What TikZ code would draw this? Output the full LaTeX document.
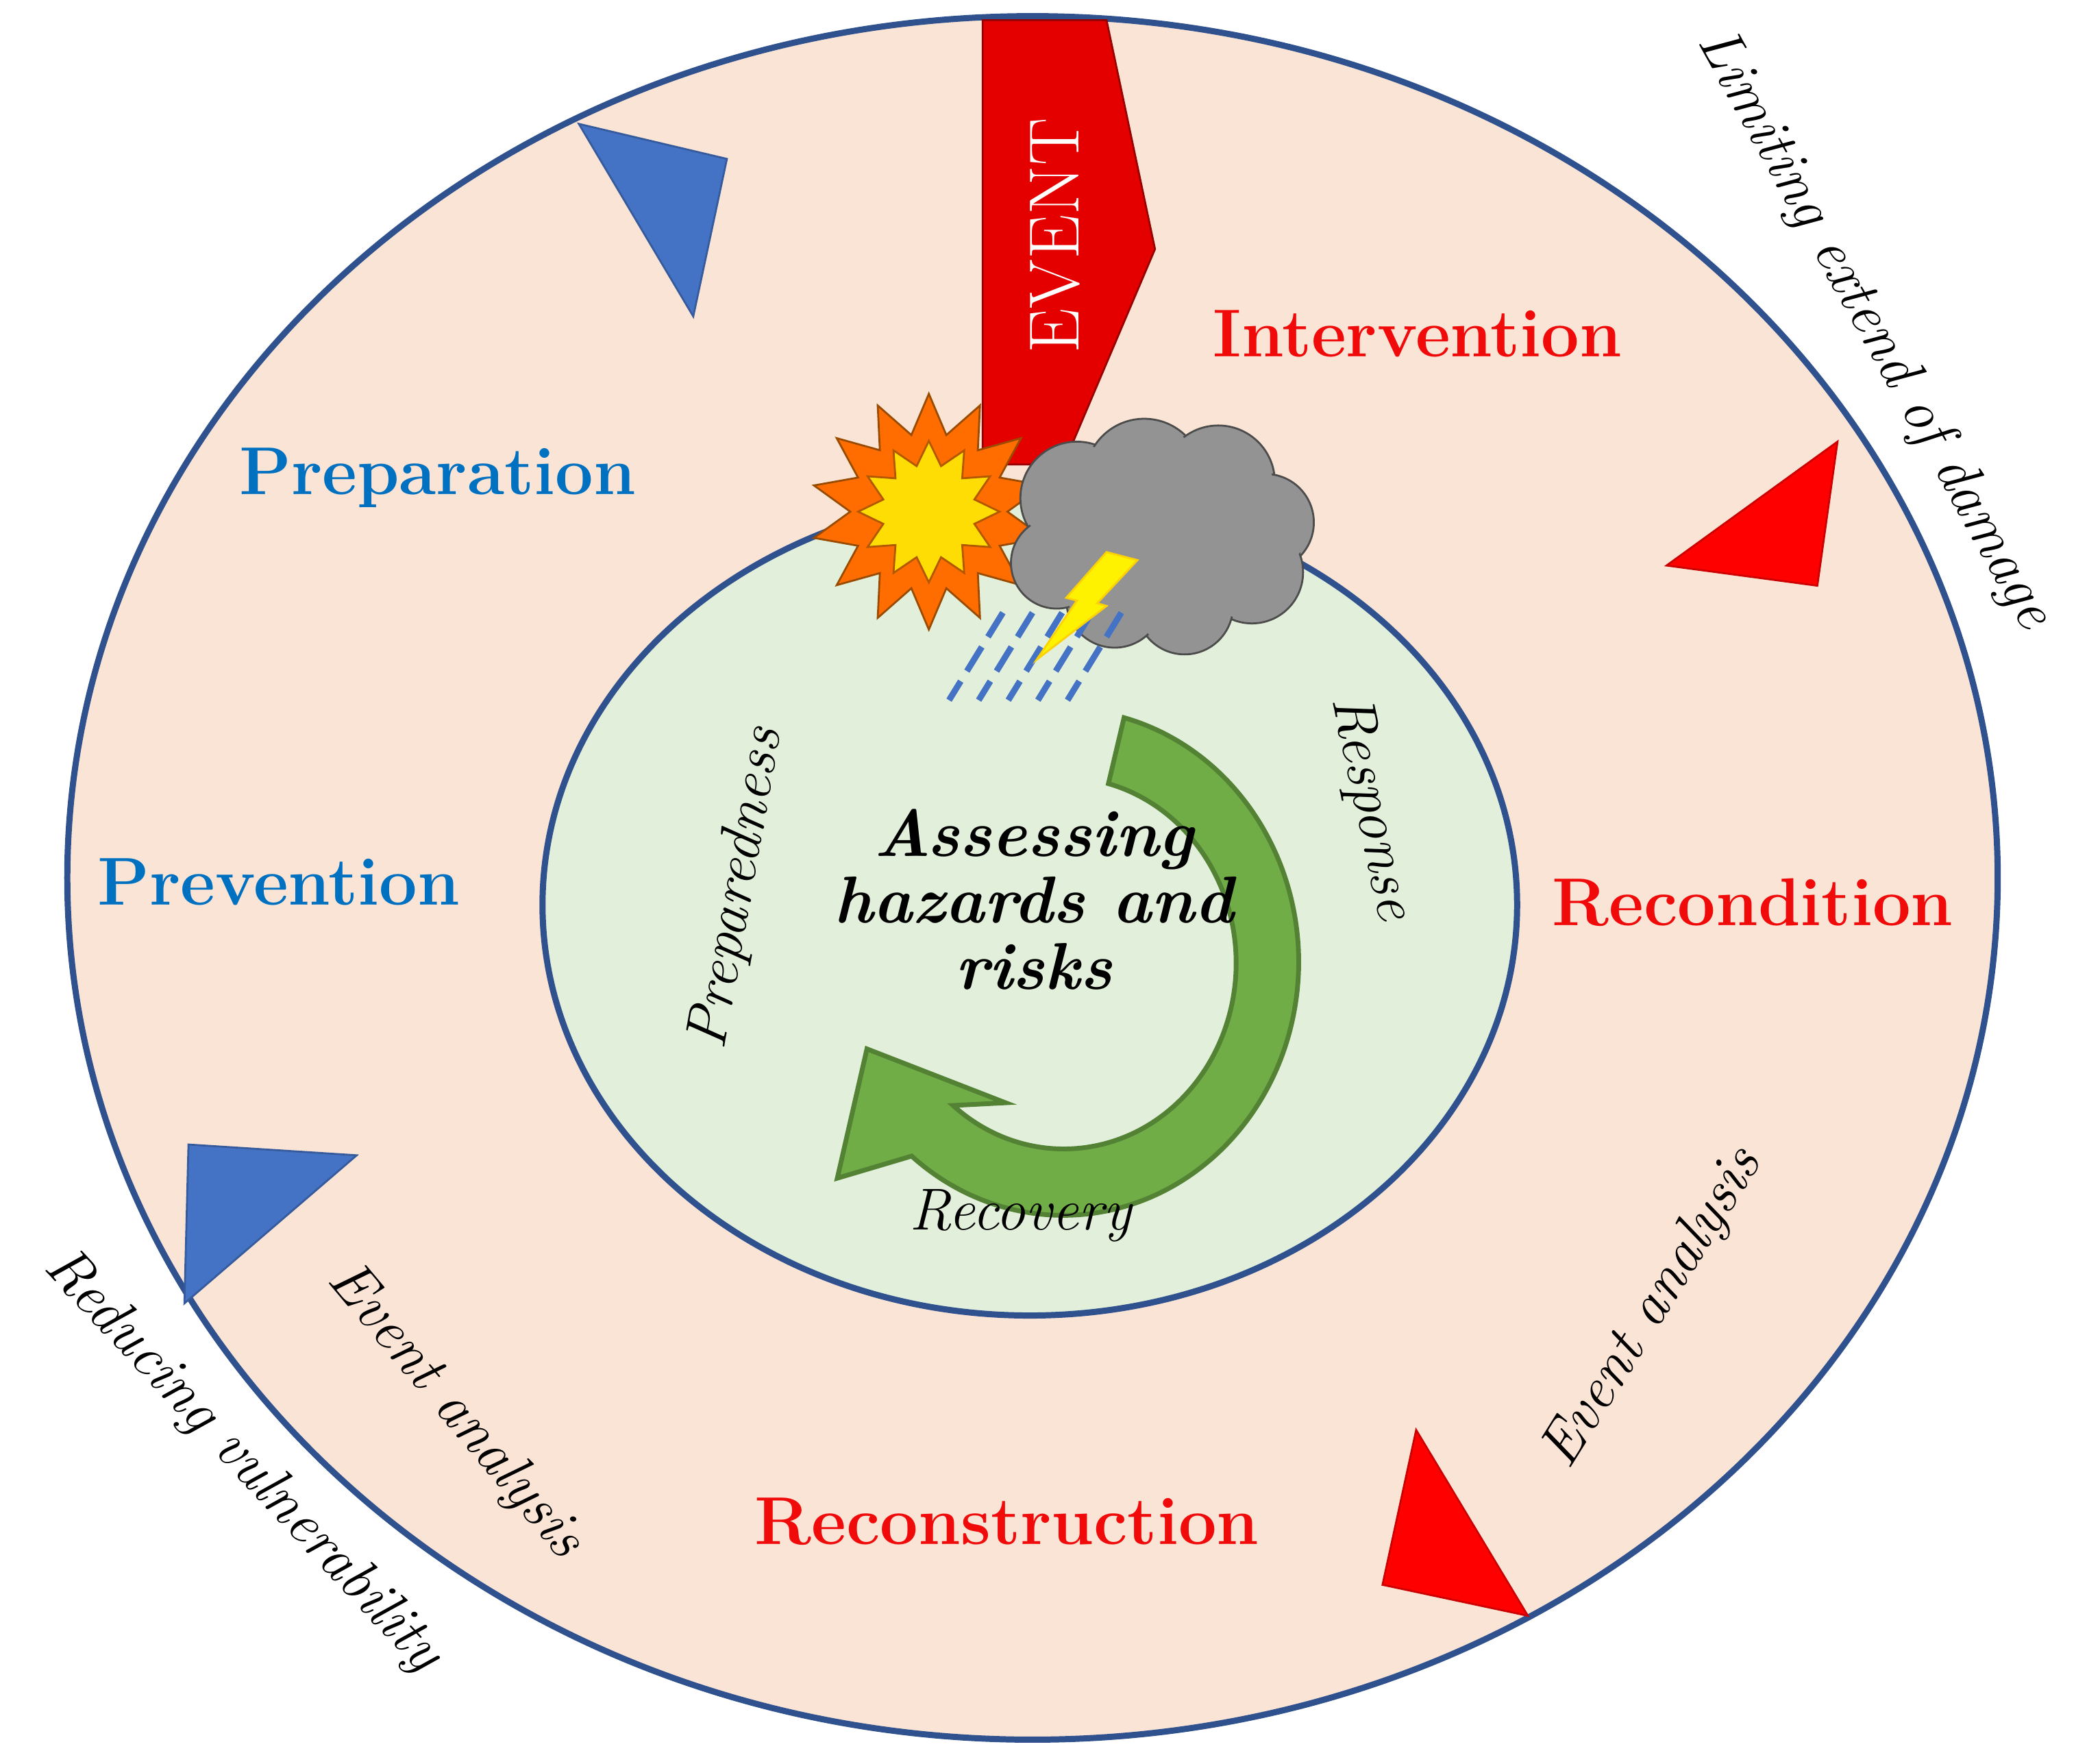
\documentclass[tikz,border=0pt]{standalone}
\usepackage{tikz}
\usetikzlibrary{shapes.geometric}

\definecolor{peach}{RGB}{250,228,214}
\definecolor{mint}{RGB}{226,239,218}
\definecolor{rim}{RGB}{47,82,143}
\definecolor{tblue}{RGB}{0,112,192}
\definecolor{tred}{RGB}{240,10,10}
\definecolor{triblue}{RGB}{68,114,196}
\definecolor{arrgreen}{RGB}{112,173,71}

\tikzset{
  phase/.style={font=\fontsize{14.3}{16}\selectfont\bfseries},
  note/.style={font=\fontsize{12.5}{14}\selectfont\itshape},
  tri/.style={draw=#1!80!black, fill=#1},
}

\begin{document}
\begin{tikzpicture}[x=0.01cm, y=-0.01cm]
            \useasboundingbox (0,0) rectangle (1560,1300);
            % rings
            \filldraw[fill=peach, draw=rim, line width=1.3pt] (767,652) ellipse (717 and 640);
            \filldraw[fill=mint, draw=rim, line width=1.3pt] (765,672) ellipse (362 and 305);

            % event arrow
            \filldraw[fill=red!90!black, draw=red!60!black] (730,15) -- (822,15) -- (858,185) -- (790,345) -- (730,345) -- cycle;
            \node[white, rotate=90, font=\fontsize{15}{17}\selectfont] (event) at (784,175) {EVENT};

            % triangles
            \filldraw[tri=triblue] (430,92) -- (540,118) -- (515,235) -- cycle;
            \filldraw[tri=triblue] (140,850) -- (265,858) -- (137,968) -- cycle;
            \filldraw[tri=red] (1365,328) -- (1350,435) -- (1238,420) -- cycle;
            \filldraw[tri=red] (1052,1062) -- (1135,1200) -- (1027,1177) -- cycle;

            % starburst
            \node[star, star points=14, star point ratio=1.5, minimum size=1.75cm, inner sep=0pt, fill=orange!85!red, draw=orange!60!black] (burst) at (690,380) {};
            \node[star, star points=12, star point ratio=1.5, minimum size=1.05cm, inner sep=0pt, fill=yellow!80!orange, draw=orange!70!black] (core) at (690,380) {};

            % cloud
            \foreach \cx/\cy/\r in {800/370/42, 850/355/44, 905/358/42, 940/388/36, 930/425/38, 880/450/36, 828/445/36, 785/418/34}
              \draw[gray!60!black, fill=gray!85] (\cx,\cy) circle (\r);
            \foreach \cx/\cy/\r in {800/370/40, 850/355/42, 905/358/40, 940/388/34, 930/425/36, 880/450/34, 828/445/34, 785/418/32}
              \fill[gray!85] (\cx,\cy) circle (\r);
            \fill[gray!85] (800,365) rectangle (925,440);

            % rain
            \foreach \dx in {0,22,44,66,88}
              \draw[triblue, line width=1.3pt, dash pattern=on 6pt off 2.5pt] (745+\dx,455) -- (705+\dx,520);
            % lightning
            \filldraw[fill=yellow, draw=yellow!70!orange] (822,410) -- (845,416) -- (815,448) -- (822,450) -- (770,490) -- (800,446) -- (792,444) -- cycle;

            % cycle arrow
            \filldraw[fill=arrgreen, draw=arrgreen!75!black, line width=1pt]
              (835,533) arc[start angle=-75, end angle=130, x radius=175, y radius=188]
              -- (622,875) -- (644,779) -- (747,819) -- (708,821)
              arc[start angle=130, end angle=-75, x radius=128, y radius=138] -- cycle;

            % labels
            \node[phase, tblue] (prep) at (325,355) {Preparation};
            \node[phase, tblue] (prev) at (207,655) {Prevention};
            \node[phase, tred] (interv) at (1053,248) {Intervention};
            \node[phase, tred] (recond) at (1302,670) {Recondition};
            \node[phase, tred] (recon) at (748,1130) {Reconstruction};

            \node[note, rotate=-61] (limit) at (1392,245) {Limiting extend of damage};
            \node[note, rotate=-47] (reduce) at (180,1085) {Reducing vulnerability};
            \node[note, rotate=-50] (anl) at (338,1048) {Event analysis};
            \node[note, rotate=58] (anr) at (1228,972) {Event analysis};

            \node[note, rotate=80] (pness) at (548,660) {Preparedness};
            \node[note, rotate=-78] (resp) at (1018,600) {Response};
            \node[note] (recov) at (758,903) {Recovery};
            \node[font=\fontsize{14}{14}\selectfont\bfseries\itshape, align=center] (assess) at (768,668) {Assessing\\hazards and\\risks};
        \end{tikzpicture}
\end{document}
